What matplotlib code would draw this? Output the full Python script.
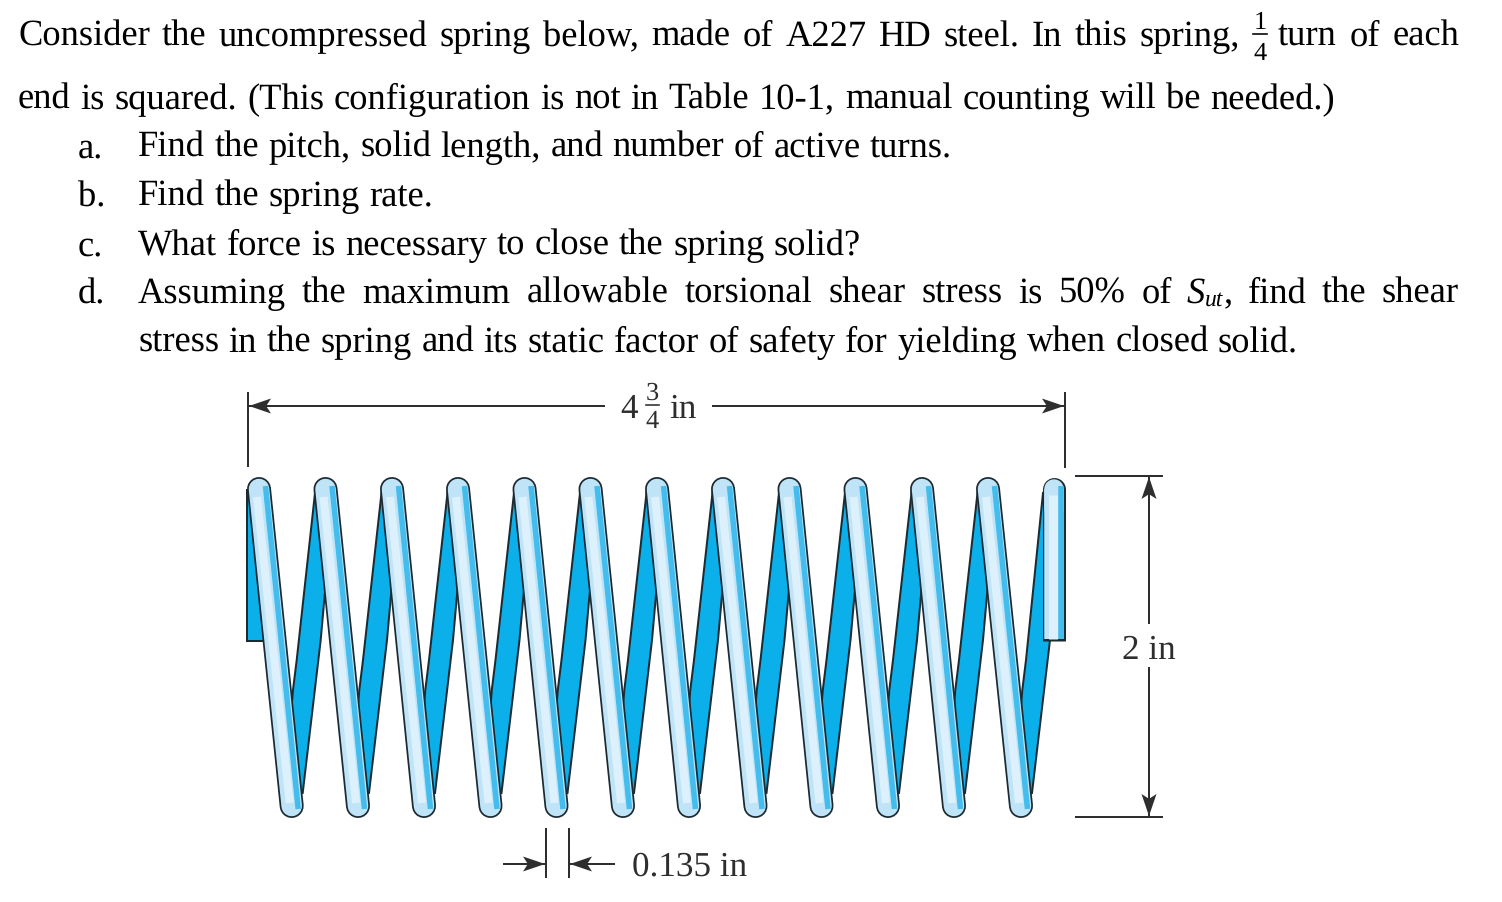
import matplotlib
matplotlib.use("Agg")
import matplotlib.pyplot as plt
from matplotlib.patches import Polygon

plt.rcParams['font.family'] = ['Liberation Serif', 'DejaVu Serif']
plt.rcParams['text.hinting'] = 'none'

# text lines: (words, x start, x end, baseline)
text_lines = [
    ("Consider the uncompressed spring below, made of A227 HD steel. In this spring,", 18, 1240, 46),
    ("turn of each", 1278, 1459, 46),
    ("end is squared. (This configuration is not in Table 10-1, manual counting will be needed.)", 18, 1335, 109),
    ("Find the pitch, solid length, and number of active turns.", 138, 952, 157),
    ("Find the spring rate.", 138, 433, 206),
    ("What force is necessary to close the spring solid?", 138, 861, 255),
    ("Assuming the maximum allowable torsional shear stress is 50% of", 138, 1172, 303),
    ("find the shear", 1248, 1459, 303),
    ("stress in the spring and its static factor of safety for yielding when closed solid.", 138, 1298, 352),
]
item_labels = ["a.", "b.", "c.", "d."]
item_y = [157, 206, 255, 303]

# spring, pixel positions
top_x = [259, 325.5, 392, 458, 524.5, 590.5, 657, 723, 789.5, 855.5, 922, 988, 1054]
bottom_x = [291.7, 358, 424, 490.5, 556.5, 623, 689, 755.5, 821.5, 888, 954, 1021]
top_y = 489
bottom_y = 806
flat_end_y = 641

# outline of a back turn, relative to the bottom centre of the turn before it
back_right_y = [793, 640, 595]
back_right_dx = [11, 29, 33]
back_left_y = [660, 690, 795]
back_left_dx = [5, 1.3, -7]

BLUE = "#0bb0ea"
PALE = "#bfe4f8"
WHITE = "#dcf1fc"
CYAN = "#42bdee"
DARK = "#1c2a32"
GREY = "#2e2e2e"

fig = plt.figure(figsize=(15.02, 9.02), dpi=100)
ax = fig.add_axes([0, 0, 1, 1])
ax.set_xlim(0, 1502)
ax.set_ylim(902, 0)
ax.axis("off")
px = 72 / fig.dpi
rend = fig.canvas.get_renderer()
FS = 26.3


def fit_line(words, x0, x1, y, size=FS):
    # word by word so the line fills its width
    items = [ax.text(x0, y, w, fontsize=size, va="baseline", ha="left", color="black") for w in words.split()]
    inv = ax.transData.inverted()
    widths = []
    for t in items:
        b = t.get_window_extent(rend)
        widths.append(inv.transform((b.x1, 0))[0] - inv.transform((b.x0, 0))[0])
    gap = (x1 - x0 - sum(widths)) / max(len(items) - 1, 1)
    x = x0
    for t, w in zip(items, widths):
        t.set_x(x)
        x += w + gap


def arrow(tip_x, tip_y, dx, dy, length=22, half=7.5):
    # barbed head, dx dy is the pointing direction
    nx, ny = -dy, dx
    pts = [(tip_x, tip_y),
           (tip_x - dx * length + nx * half, tip_y - dy * length + ny * half),
           (tip_x - dx * length * 0.78, tip_y - dy * length * 0.78),
           (tip_x - dx * length - nx * half, tip_y - dy * length - ny * half)]
    ax.add_patch(Polygon(pts, closed=True, fc=GREY, ec="none", zorder=6))


def seg(x0, y0, x1, y1, lw=2.0):
    ax.plot([x0, x1], [y0, y1], color=GREY, lw=lw * px, solid_capstyle="butt", zorder=5)


def label(x, y, s, size=25.3, ha="left"):
    ax.text(x, y, s, fontsize=size, color=GREY, va="baseline", ha=ha, zorder=6)


for words, x0, x1, y in text_lines:
    fit_line(words, x0, x1, y)
for lab, y in zip(item_labels, item_y):
    ax.text(78, y, lab, fontsize=FS, va="baseline", color="black")

# 1/4 in the first line
ax.text(1260, 29, "1", fontsize=19, ha="center", va="baseline", color="black")
ax.text(1260, 60, "4", fontsize=19, ha="center", va="baseline", color="black")
ax.plot([1253, 1267], [33.5, 33.5], color="black", lw=1.6 * px)

# S_ut
ax.text(1187, 303, "S", fontsize=FS, style="italic", va="baseline", color="black")
ax.text(1205, 306, "ut", fontsize=17, style="italic", va="baseline", color="black")
ax.text(1224, 303, ",", fontsize=FS, va="baseline", color="black")

# back of the coils
ax.add_patch(Polygon([(247, 490), (270, 490), (270, flat_end_y), (247, flat_end_y)], closed=True,
                     fc=BLUE, ec=DARK, lw=2 * px, zorder=2))
for i, bx in enumerate(bottom_x):
    tx = top_x[i + 1]
    right = [(bx + d, y) for d, y in zip(back_right_dx, back_right_y)]
    left = [(bx + d, y) for d, y in zip(back_left_dx, back_left_y)]
    if i == len(bottom_x) - 1:
        # last one runs into the flat end
        pts = right[:2] + [(tx - 4, 495), (tx - 11, 493)] + left
    else:
        pts = right + [(tx + 10, 495), (tx - 10.5, 493)] + left
    ax.add_patch(Polygon(pts, closed=True, fc=BLUE, ec=DARK, lw=2 * px, zorder=2))


def strip(x0, y0, x1, y1, z, cap="round"):
    # one front turn: outline, pale body, highlight, darker side
    def ln(off, wid, color, y_a=y0, y_b=y1, c=cap, zz=0.0):
        ax.plot([x0 + off, x1 + off], [y_a, y_b], color=color, lw=wid * px,
                solid_capstyle=c, zorder=z + zz)
    ln(0, 24, DARK)
    ln(0, 20.5, PALE, zz=0.1)
    ln(-2, 8, WHITE, y0 + 8, y1 - 3, "butt", 0.2)
    ln(6.5, 5.5, CYAN, y0 - 3, y1 + 3, "butt", 0.3)


for tx, bx in zip(top_x, bottom_x):
    strip(tx, top_y, bx, bottom_y, 3)

# flat end on the right: rounded top, square bottom
fx = top_x[-1]
ax.plot([fx, fx], [top_y, top_y + 20], color=DARK, lw=23 * px, solid_capstyle="round", zorder=4)
ax.plot([fx, fx], [top_y, top_y + 20], color=PALE, lw=19.5 * px, solid_capstyle="round", zorder=4.1)
ax.plot([fx, fx], [top_y, flat_end_y], color=DARK, lw=23 * px, solid_capstyle="butt", zorder=4)
ax.plot([fx, fx], [top_y, flat_end_y - 2], color=PALE, lw=19.5 * px, solid_capstyle="butt", zorder=4.1)
ax.plot([fx - 1.5, fx - 1.5], [top_y + 6, flat_end_y - 2], color=WHITE, lw=9 * px, solid_capstyle="butt", zorder=4.2)
ax.plot([fx + 6.5, fx + 6.5], [top_y - 3, flat_end_y - 2], color=CYAN, lw=5.5 * px, solid_capstyle="butt", zorder=4.3)

# 4 3/4 in dimension
seg(248, 392, 248, 467)
seg(1065, 392, 1065, 468)
seg(248, 406, 605, 406)
seg(712, 406, 1065, 406)
arrow(249, 406, -1, 0)
arrow(1064, 406, 1, 0)
label(620, 418, "4")
label(652, 400, "3", 19, "center")
label(652, 428, "4", 19, "center")
ax.plot([645.5, 659], [405, 405], color=GREY, lw=1.6 * px, zorder=6)
label(669, 418, "in")

# 2 in dimension
seg(1075, 476, 1163, 476)
seg(1075, 817, 1163, 817)
seg(1149, 477, 1149, 624)
seg(1149, 667, 1149, 816)
arrow(1149, 477, 0, -1)
arrow(1149, 816, 0, 1)
label(1149, 659, "2 in", ha="center")

# 0.135 in dimension
seg(546, 828, 546, 878)
seg(569, 828, 569, 878)
seg(503, 864, 545, 864)
seg(570, 864, 615, 864)
arrow(545, 864, 1, 0)
arrow(570, 864, -1, 0)
label(632, 875, "0.135 in")

fig.savefig("out.png", dpi=100, facecolor="white")
